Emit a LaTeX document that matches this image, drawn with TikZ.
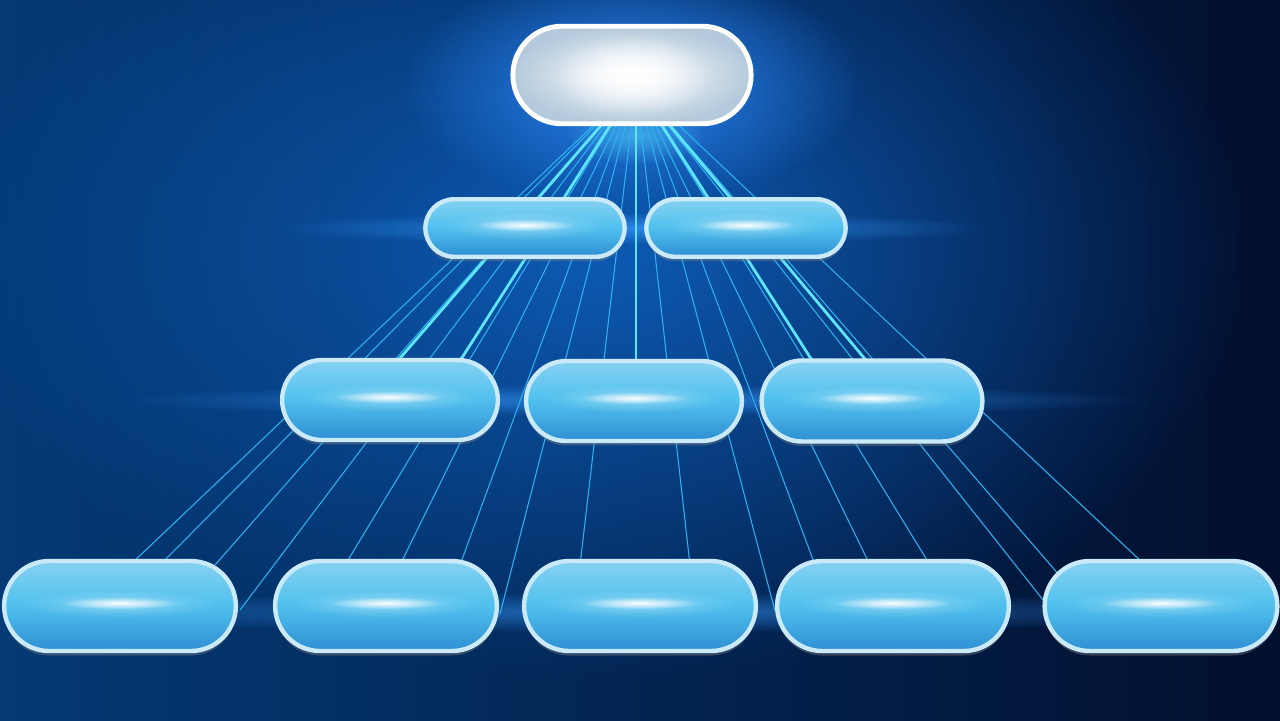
\documentclass[tikz,border=0pt]{standalone}
\usetikzlibrary{shapes.misc,calc,fadings,shadows}
\definecolor{bgL}{HTML}{043A76}
\definecolor{bgM}{HTML}{073F86}
\definecolor{bgR}{HTML}{020F2E}
\definecolor{bgGlow}{HTML}{0F64C6}
\definecolor{haloC}{HTML}{2F8CFF}
\definecolor{pillTop}{HTML}{86D2F2}
\definecolor{pillMid}{HTML}{4FC0EE}
\definecolor{pillBot}{HTML}{2E8ED2}
\definecolor{pillRim}{HTML}{C9EAF6}
\definecolor{topEdge}{HTML}{B4CADC}
\definecolor{lineThin}{HTML}{2DB2F0}
\definecolor{lineBright}{HTML}{5FE4FF}
\definecolor{flare}{HTML}{3A9CFF}
\tikzfading[name=glowfade, inner color=transparent!0, outer color=transparent!100]
\pgfdeclarelayer{bglayer}
\pgfdeclarelayer{linelayer}
\pgfsetlayers{bglayer,linelayer,main}
\begin{document}
\begin{tikzpicture}[x=0.02cm,y=-0.02cm,
  pill/.style={rounded rectangle, draw=pillRim, line width=2.5pt,
    top color=pillTop, bottom color=pillBot, middle color=pillMid,
    drop shadow={shadow xshift=0cm, shadow yshift=-0.09cm, opacity=0.4}},
  toppill/.style={rounded rectangle, draw=white, line width=2.8pt,
    inner color=white, outer color=topEdge},
  thinline/.style={draw=lineThin, line width=0.6pt, line cap=round},
  brightline/.style={draw=lineBright, line width=1.6pt, line cap=round}]
\useasboundingbox (0,0) rectangle (1280,720);

% nodes
\node[toppill, minimum width=5.0cm, minimum height=1.95cm] (top) at (632,75) {};
\node[pill, minimum width=4.22cm, minimum height=1.15cm] (n21) at (525,228) {};
\node[pill, minimum width=4.22cm, minimum height=1.15cm] (n22) at (746,228) {};
\node[pill, minimum width=4.55cm, minimum height=1.6cm] (n31) at (390,400) {};
\node[pill, minimum width=4.55cm, minimum height=1.6cm] (n32) at (634,401) {};
\node[pill, minimum width=4.65cm, minimum height=1.62cm] (n33) at (872,401) {};
\node[pill, minimum width=4.87cm, minimum height=1.8cm] (n41) at (120,606) {};
\node[pill, minimum width=4.67cm, minimum height=1.8cm] (n42) at (386,606) {};
\node[pill, minimum width=4.87cm, minimum height=1.8cm] (n43) at (640,606) {};
\node[pill, minimum width=4.87cm, minimum height=1.8cm] (n44) at (893,606) {};
\node[pill, minimum width=4.89cm, minimum height=1.8cm] (n45) at (1161,606) {};
\coordinate (apex) at ($(top.center)+(4,10)$);

% highlights on pills
\foreach \n/\w in {n21/50,n22/50,n31/55,n32/55,n33/55,n41/60,n42/58,n43/60,n44/60,n45/60}{
  \fill[white, path fading=glowfade, opacity=0.35] ($(\n.center)+(0,-2)$) ellipse [x radius=1.6*\w, y radius=14];
  \fill[white, path fading=glowfade, opacity=0.95] ($(\n.center)+(0,-3)$) ellipse [x radius=\w, y radius=6];
}
\fill[white, path fading=glowfade] (top.center) ellipse [x radius=80, y radius=40];

% background
\begin{pgfonlayer}{bglayer}
  \shade[left color=bgL, middle color=bgM, right color=bgR] (0,0) rectangle (1280,720);
  \fill[bgGlow, path fading=glowfade, opacity=0.85] (600,250) ellipse [x radius=650, y radius=430];
  \fill[haloC, path fading=glowfade, opacity=0.9] (632,85) ellipse [x radius=230, y radius=120];
  \fill[flare, path fading=glowfade, opacity=0.7] (632,228) ellipse [x radius=360, y radius=16];
  \fill[flare, path fading=glowfade, opacity=0.6] (630,400) ellipse [x radius=520, y radius=16];
  \fill[flare, path fading=glowfade, opacity=0.5] (640,612) ellipse [x radius=680, y radius=20];
  \fill[lineBright, path fading=glowfade, opacity=0.5] (636,135) ellipse [x radius=70, y radius=30];
\end{pgfonlayer}

% connectors
\begin{pgfonlayer}{linelayer}
  \foreach \n/\dx/\dy in {n41/10/-41, n41/40/-41, n41/95/-41, n41/120/4,
      n42/-41/-41, n42/14/-41, n42/74/-41, n42/114/8,
      n43/-60/-41, n43/50/-41, n44/-118/5,
      n44/-78/-41, n44/-23/-41, n44/37/-41,
      n45/-110/4, n45/-101/-30, n45/-16/-41}
    \draw[thinline] (apex) -- ($(\n.center)+(\dx,\dy)$);
  \foreach \n/\dx in {n31/5, n31/68, n32/2, n33/-57, n33/-2}
    \draw[brightline] (apex) -- ($(\n.center)+(\dx,-36)$);
\end{pgfonlayer}
\end{tikzpicture}
\end{document}
